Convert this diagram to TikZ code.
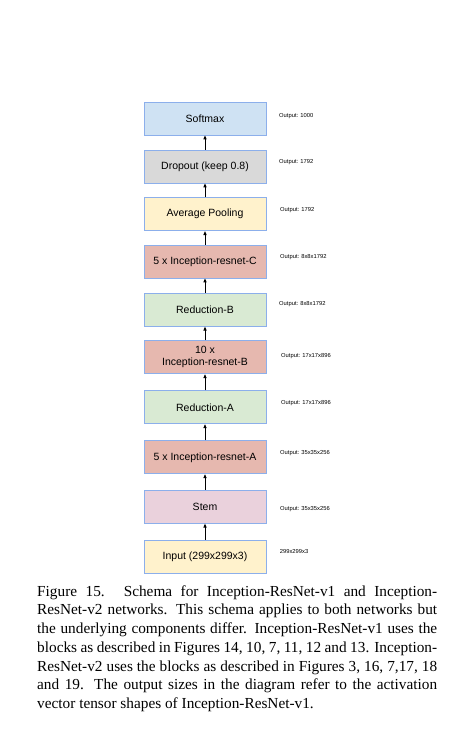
\documentclass[tikz,border=0pt]{standalone}
\usepackage{fontspec}
\setmainfont{Liberation Serif}
\newfontfamily\boxfont{Liberation Sans}
\usetikzlibrary{arrows.meta}
\definecolor{bordblue}{HTML}{8CAFEB}
\definecolor{cBlue}{HTML}{CFE2F3}
\definecolor{cGray}{HTML}{D9D9D9}
\definecolor{cYellow}{HTML}{FFF2CC}
\definecolor{cRed}{HTML}{E6B8AF}
\definecolor{cGreen}{HTML}{D9EAD3}
\definecolor{cPink}{HTML}{EAD1DC}
\tikzset{
  layerbox/.style={draw=bordblue, line width=0.8pt, minimum width=122pt, minimum height=33pt,
    inner sep=0pt, align=center, font=\boxfont\fontsize{10.5}{12}\selectfont},
  outlabel/.style={anchor=west, inner sep=0pt, font=\boxfont\fontsize{5.8}{7}\selectfont},
  flow/.style={draw=black, line width=0.9pt, -{Triangle[length=4pt,width=3.2pt]}}
}
\begin{document}
\begin{tikzpicture}[x=1pt,y=-1pt]
\useasboundingbox (0,0) rectangle (459,736);
\fill[white] (0,0) rectangle (459,736);
\node[layerbox, fill=cBlue]   (softmax) at (205,118.5) {Softmax};
\node[layerbox, fill=cGray]   (dropout) at (205,166.5) {Dropout (keep 0.8)};
\node[layerbox, fill=cYellow] (avgpool) at (205,214.2) {Average Pooling};
\node[layerbox, fill=cRed]    (incc)    at (205,261.5) {5 x Inception-resnet-C};
\node[layerbox, fill=cGreen]  (redb)    at (205,309.7) {Reduction-B};
\node[layerbox, fill=cRed]    (incb)    at (205,357.3) {10 x\\Inception-resnet-B};
\node[layerbox, fill=cGreen]  (reda)    at (205,407.3) {Reduction-A};
\node[layerbox, fill=cRed]    (inca)    at (205,457.3) {5 x Inception-resnet-A};
\node[layerbox, fill=cPink]   (stem)    at (205,506.7) {Stem};
\node[layerbox, fill=cYellow] (input)   at (205,556.7) {Input (299x299x3)};

\draw[flow] (input) -- (stem);
\draw[flow] (stem) -- (inca);
\draw[flow] (inca) -- (reda);
\draw[flow] (reda) -- (incb);
\draw[flow] (incb) -- (redb);
\draw[flow] (redb) -- (incc);
\draw[flow] (incc) -- (avgpool);
\draw[flow] (avgpool) -- (dropout);
\draw[flow] (dropout) -- (softmax);

\node[outlabel] (lsoftmax) at (279,115.7) {Output: 1000};
\node[outlabel] (ldropout) at (279,161.7) {Output: 1792};
\node[outlabel] (lavgpool) at (280,210) {Output: 1792};
\node[outlabel] (lincc)    at (280,257) {Output: 8x8x1792};
\node[outlabel] (lredb)    at (279,304) {Output: 8x8x1792};
\node[outlabel] (lincb)    at (281,356) {Output: 17x17x896};
\node[outlabel] (lreda)    at (281,402.7) {Output: 17x17x896};
\node[outlabel] (linca)    at (280,452.7) {Output: 35x35x256};
\node[outlabel] (lstem)    at (280,508.7) {Output: 35x35x256};
\node[outlabel] (linput)   at (279.7,551.7) {299x299x3};

\node[anchor=north west, inner sep=0pt, text width=400pt, align=justify,
  font=\fontsize{15.3}{18.75}\selectfont] (caption) at (37,585.2)
{Figure 15. Schema for Inception-ResNet-v1 and Inception-\linebreak
ResNet-v2 networks. This schema applies to both networks but\linebreak
the underlying components differ. Inception-ResNet-v1 uses the\linebreak
blocks as described in Figures 14, 10, 7, 11, 12 and 13. Inception-\linebreak
ResNet-v2 uses the blocks as described in Figures 3, 16, 7,17, 18\linebreak
and 19. The output sizes in the diagram refer to the activation\linebreak
vector tensor shapes of Inception-ResNet-v1.};
\end{tikzpicture}
\end{document}
